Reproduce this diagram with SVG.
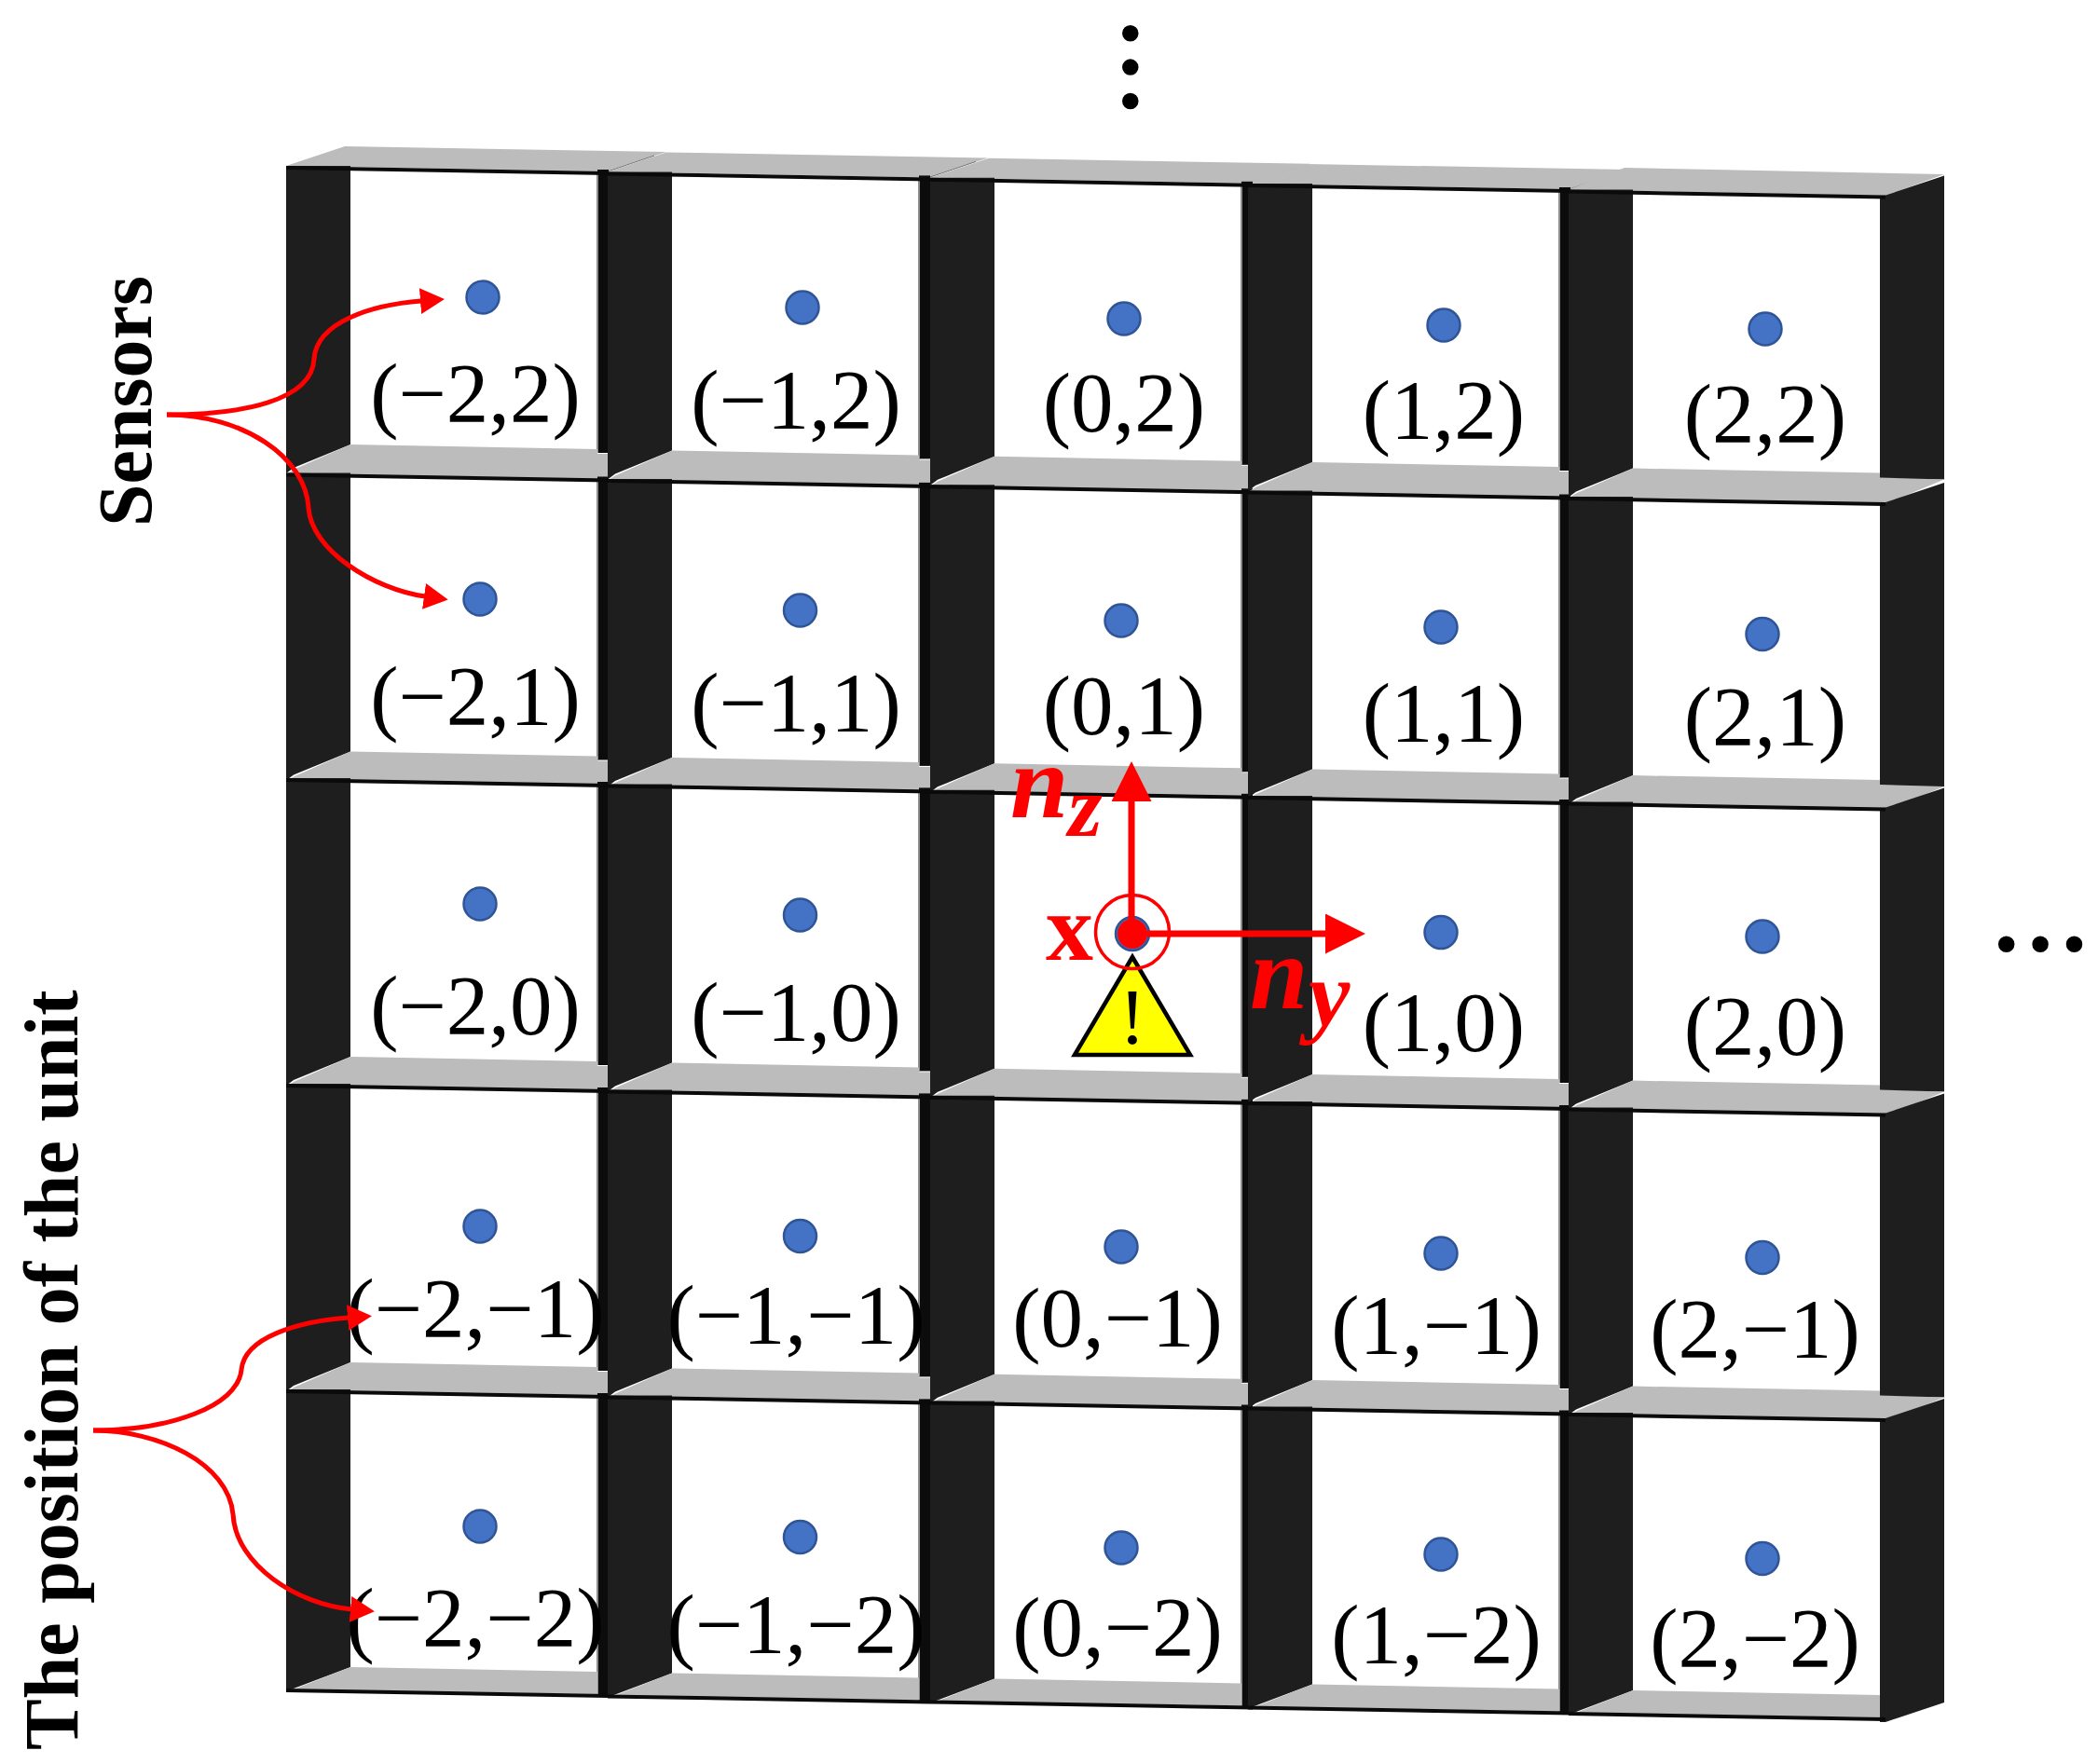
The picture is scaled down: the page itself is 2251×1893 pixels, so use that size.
<svg xmlns="http://www.w3.org/2000/svg" xmlns:xlink="http://www.w3.org/1999/xlink" width="2251" height="1893" viewBox="0 0 2251 1893">
<style>
.wall{fill:#1e1e1e}
.floor{fill:#bcbcbc}
.edge{stroke:#0a0a0a;stroke-width:4;fill:none}
.strip{fill:#0c0c0c}
.strip-e{stroke:#8c8c8c;stroke-width:2}
.dot{fill:#4472c4;stroke:#2f5597;stroke-width:2.5}
.lbl{font-family:"Liberation Serif","Times New Roman",serif;font-size:91px;fill:#000;text-anchor:middle}
.side{font-family:"Liberation Serif","Times New Roman",serif;font-weight:bold;fill:#000}
.sym{font-family:"Liberation Serif","Times New Roman",serif;fill:#ff0000;font-weight:bold}
.ell{font-family:"Liberation Serif","Times New Roman",serif;font-size:108px;font-weight:bold;fill:#000}
.curve{fill:none;stroke:#ff0000;stroke-width:5}
.axis{fill:none;stroke:#ff0000;stroke-width:7}
</style>
<defs>
<marker id="head" markerUnits="userSpaceOnUse" viewBox="0 0 26 28" refX="1" refY="14" markerWidth="26" markerHeight="28" orient="auto"><path d="M0 0L26 14L0 28Z" fill="#ff0000"/></marker>
<marker id="axhead" markerUnits="userSpaceOnUse" viewBox="0 0 43 43" refX="1" refY="21.5" markerWidth="43" markerHeight="43" orient="auto"><path d="M0 0L43 21.5L0 43Z" fill="#ff0000"/></marker>
<g id="ceil"><polygon class="floor" points="0,0 63,-21 408,-15 345,6"/><line x1="345" y1="6" x2="395" y2="-11" stroke="#777" stroke-width="1"/></g>
<g id="box">
<polygon class="wall" points="0,0 69,0 69,299 8,324 0,330"/>
<rect class="strip" x="334" y="4" width="12" height="304"/>
<line class="strip-e" x1="334" y1="8" x2="334" y2="308"/>
<polygon class="floor" points="8,326 69,299 334,304 334,309 346,309 346,337 0,331"/>
<line class="edge" x1="0" y1="2" x2="346" y2="8"/>
</g>
<g id="boxlast">
<polygon class="wall" points="0,0 69,0 69,298 8,321 0,323"/>
<rect class="strip" x="334" y="4" width="12" height="324"/>
<line class="strip-e" x1="334" y1="8" x2="334" y2="328"/>
<polygon class="floor" points="8,322 69,298 334,303 334,327 0,322"/>
<line class="edge" x1="0" y1="2" x2="346" y2="8"/>
<line class="edge" x1="0" y1="323" x2="346" y2="329"/>
</g>
<g id="boxr">
<polygon class="wall" points="0,0 69,0 69,299 8,324 0,330"/>
<polygon class="wall" points="334,8 403,-15 403,311 334,311"/>
<polygon class="floor" points="8,326 69,299 334,304 334,309 403,311 340,337 0,331"/>
<line class="edge" x1="0" y1="2" x2="340" y2="8"/>
</g>
<g id="boxrlast">
<polygon class="wall" points="0,0 69,0 69,298 8,321 0,323"/>
<polygon class="floor" points="8,322 69,298 334,303 334,327 0,322"/>
<polygon class="wall" points="334,8 403,-15 403,311 340,332 334,332"/>
<line class="edge" x1="0" y1="2" x2="340" y2="8"/>
<line class="edge" x1="0" y1="323" x2="340" y2="329"/>
</g>
</defs>
<rect width="2251" height="1893" fill="#ffffff"/>

<g id="ceilings">
<use xlink:href="#ceil" href="#ceil" x="307" y="178"/>
<use xlink:href="#ceil" href="#ceil" x="652" y="184.400"/>
<use xlink:href="#ceil" href="#ceil" x="998" y="190.800"/>
<use xlink:href="#ceil" href="#ceil" x="1339" y="197"/>
<polygon class="floor" points="1683,203.600 1743,180 2086,187 2023,210"/>
</g>

<g id="cell-m2-2"><use href="#box" x="307" y="178"/><circle class="dot" cx="518" cy="319" r="17.500"/><text class="lbl" x="510" y="453">(−2,2)</text></g>
<g id="cell-m2-1"><use href="#box" x="307" y="507.500"/><circle class="dot" cx="515" cy="643" r="17.500"/><text class="lbl" x="510" y="778">(−2,1)</text></g>
<g id="cell-m2-0"><use href="#box" x="307" y="835"/><circle class="dot" cx="515" cy="970" r="17.500"/><text class="lbl" x="510" y="1110">(−2,0)</text></g>
<g id="cell-m2-m1"><use href="#box" x="307" y="1163"/><circle class="dot" cx="515" cy="1316" r="17.500"/><text class="lbl" x="510" y="1435">(−2,−1)</text></g>
<g id="cell-m2-m2"><use href="#boxlast" x="307" y="1491"/><circle class="dot" cx="515" cy="1638" r="17.500"/><text class="lbl" x="510" y="1767">(−2,−2)</text></g>

<g id="cell-m1-2"><use href="#box" x="652" y="184.400"/><circle class="dot" cx="861" cy="330" r="17.500"/><text class="lbl" x="854" y="460">(−1,2)</text></g>
<g id="cell-m1-1"><use href="#box" x="652" y="513.900"/><circle class="dot" cx="858.500" cy="655" r="17.500"/><text class="lbl" x="854" y="785">(−1,1)</text></g>
<g id="cell-m1-0"><use href="#box" x="652" y="841.400"/><circle class="dot" cx="858.500" cy="982" r="17.500"/><text class="lbl" x="854" y="1117">(−1,0)</text></g>
<g id="cell-m1-m1"><use href="#box" x="652" y="1169.400"/><circle class="dot" cx="858.500" cy="1326.500" r="17.500"/><text class="lbl" x="854" y="1442">(−1,−1)</text></g>
<g id="cell-m1-m2"><use href="#boxlast" x="652" y="1497.400"/><circle class="dot" cx="858.500" cy="1649.500" r="17.500"/><text class="lbl" x="854" y="1774">(−1,−2)</text></g>

<g id="cell-0-2"><use href="#box" x="998" y="190.800"/><circle class="dot" cx="1206" cy="342" r="17.500"/><text class="lbl" x="1206" y="463">(0,2)</text></g>
<g id="cell-0-1"><use href="#box" x="998" y="520.300"/><circle class="dot" cx="1203" cy="666" r="17.500"/><text class="lbl" x="1206" y="788">(0,1)</text></g>
<g id="cell-0-0"><use href="#box" x="998" y="847.800"/><circle class="dot" cx="1215" cy="1002" r="18"/>
<g id="warning"><polygon points="1215,1027 1153,1132 1277,1132" fill="#ffff00" stroke="#000" stroke-width="4.500"/><text x="1215" y="1120" text-anchor="middle" font-family="'Liberation Serif',serif" font-size="84" fill="#000">!</text></g></g>
<g id="cell-0-m1"><use href="#box" x="998" y="1175.800"/><circle class="dot" cx="1203" cy="1338" r="17.500"/><text class="lbl" x="1199" y="1445">(0,−1)</text></g>
<g id="cell-0-m2"><use href="#boxlast" x="998" y="1503.500"/><circle class="dot" cx="1203" cy="1661" r="17.500"/><text class="lbl" x="1199" y="1777">(0,−2)</text></g>

<g id="cell-1-2"><use href="#box" x="1339" y="197"/><circle class="dot" cx="1549" cy="349" r="17.500"/><text class="lbl" x="1549" y="471">(1,2)</text></g>
<g id="cell-1-1"><use href="#box" x="1339" y="526.500"/><circle class="dot" cx="1546" cy="673" r="17.500"/><text class="lbl" x="1549" y="796">(1,1)</text></g>
<g id="cell-1-0"><use href="#box" x="1339" y="854"/><circle class="dot" cx="1546" cy="1000.600" r="17.500"/><text class="lbl" x="1549" y="1128">(1,0)</text></g>
<g id="cell-1-m1"><use href="#box" x="1339" y="1182"/><circle class="dot" cx="1546" cy="1345" r="17.500"/><text class="lbl" x="1541" y="1453">(1,−1)</text></g>
<g id="cell-1-m2"><use href="#boxlast" x="1339" y="1509.500"/><circle class="dot" cx="1546" cy="1668" r="17.500"/><text class="lbl" x="1541" y="1785">(1,−2)</text></g>

<g id="cell-2-2"><use href="#boxr" x="1683" y="203.600"/><circle class="dot" cx="1894" cy="353" r="17.500"/><text class="lbl" x="1894" y="475">(2,2)</text></g>
<g id="cell-2-1"><use href="#boxr" x="1683" y="533.100"/><circle class="dot" cx="1891" cy="680.500" r="17.500"/><text class="lbl" x="1894" y="800">(2,1)</text></g>
<g id="cell-2-0"><use href="#boxr" x="1683" y="860.600"/><circle class="dot" cx="1891" cy="1005" r="17.500"/><text class="lbl" x="1894" y="1132">(2,0)</text></g>
<g id="cell-2-m1"><use href="#boxr" x="1683" y="1188.600"/><circle class="dot" cx="1891" cy="1349.500" r="17.500"/><text class="lbl" x="1883" y="1457">(2,−1)</text></g>
<g id="cell-2-m2"><use href="#boxrlast" x="1683" y="1516"/><circle class="dot" cx="1891" cy="1672.500" r="17.500"/><text class="lbl" x="1883" y="1789">(2,−2)</text></g>

<g id="connectors">
<path class="curve" marker-end="url(#head)" d="M179 445C260 445 335 430 337 385C340 345 400 327 452 323"/>
<path class="curve" marker-end="url(#head)" d="M179 445C260 445 328 490 331 545C334 590 400 632 456 640"/>
<path class="curve" marker-end="url(#head)" d="M100 1535C180 1535 255 1510 259 1470C262 1435 320 1418 374 1414"/>
<path class="curve" marker-end="url(#head)" d="M100 1535C170 1535 245 1570 250 1625C253 1680 320 1722 377 1727"/>
<path class="axis" marker-end="url(#axhead)" d="M1214 1002V859"/>
<path class="axis" marker-end="url(#axhead)" d="M1215 1002H1423"/>
</g>

<g id="axes-origin">
<circle cx="1215" cy="1002" r="16" fill="#ff0000"/>
<circle cx="1215" cy="1000" r="39.500" fill="none" stroke="#ff0000" stroke-width="3.500"/>
</g>

<g id="axis-labels">
<text class="sym" x="1084" y="877" font-size="112" font-style="italic">n</text>
<text class="sym" x="1146" y="897" font-size="94" font-style="italic">z</text>
<text class="sym" x="1122" y="1030" font-size="102">x</text>
<text class="sym" x="1341" y="1082" font-size="112" font-style="italic">n</text>
<text class="sym" x="1404" y="1101" font-size="100" font-style="italic">y</text>
</g>

<g id="side-labels">
<text class="side" font-size="82" transform="translate(162,565) rotate(-90)">Sensors</text>
<text class="side" font-size="82" transform="translate(83,1878) rotate(-90)">The position of the unit</text>
</g>

<g id="ellipses">
<text class="ell" transform="translate(1206,18) rotate(90)">…</text>
<text class="ell" x="2135" y="1020">…</text>
</g>
</svg>
